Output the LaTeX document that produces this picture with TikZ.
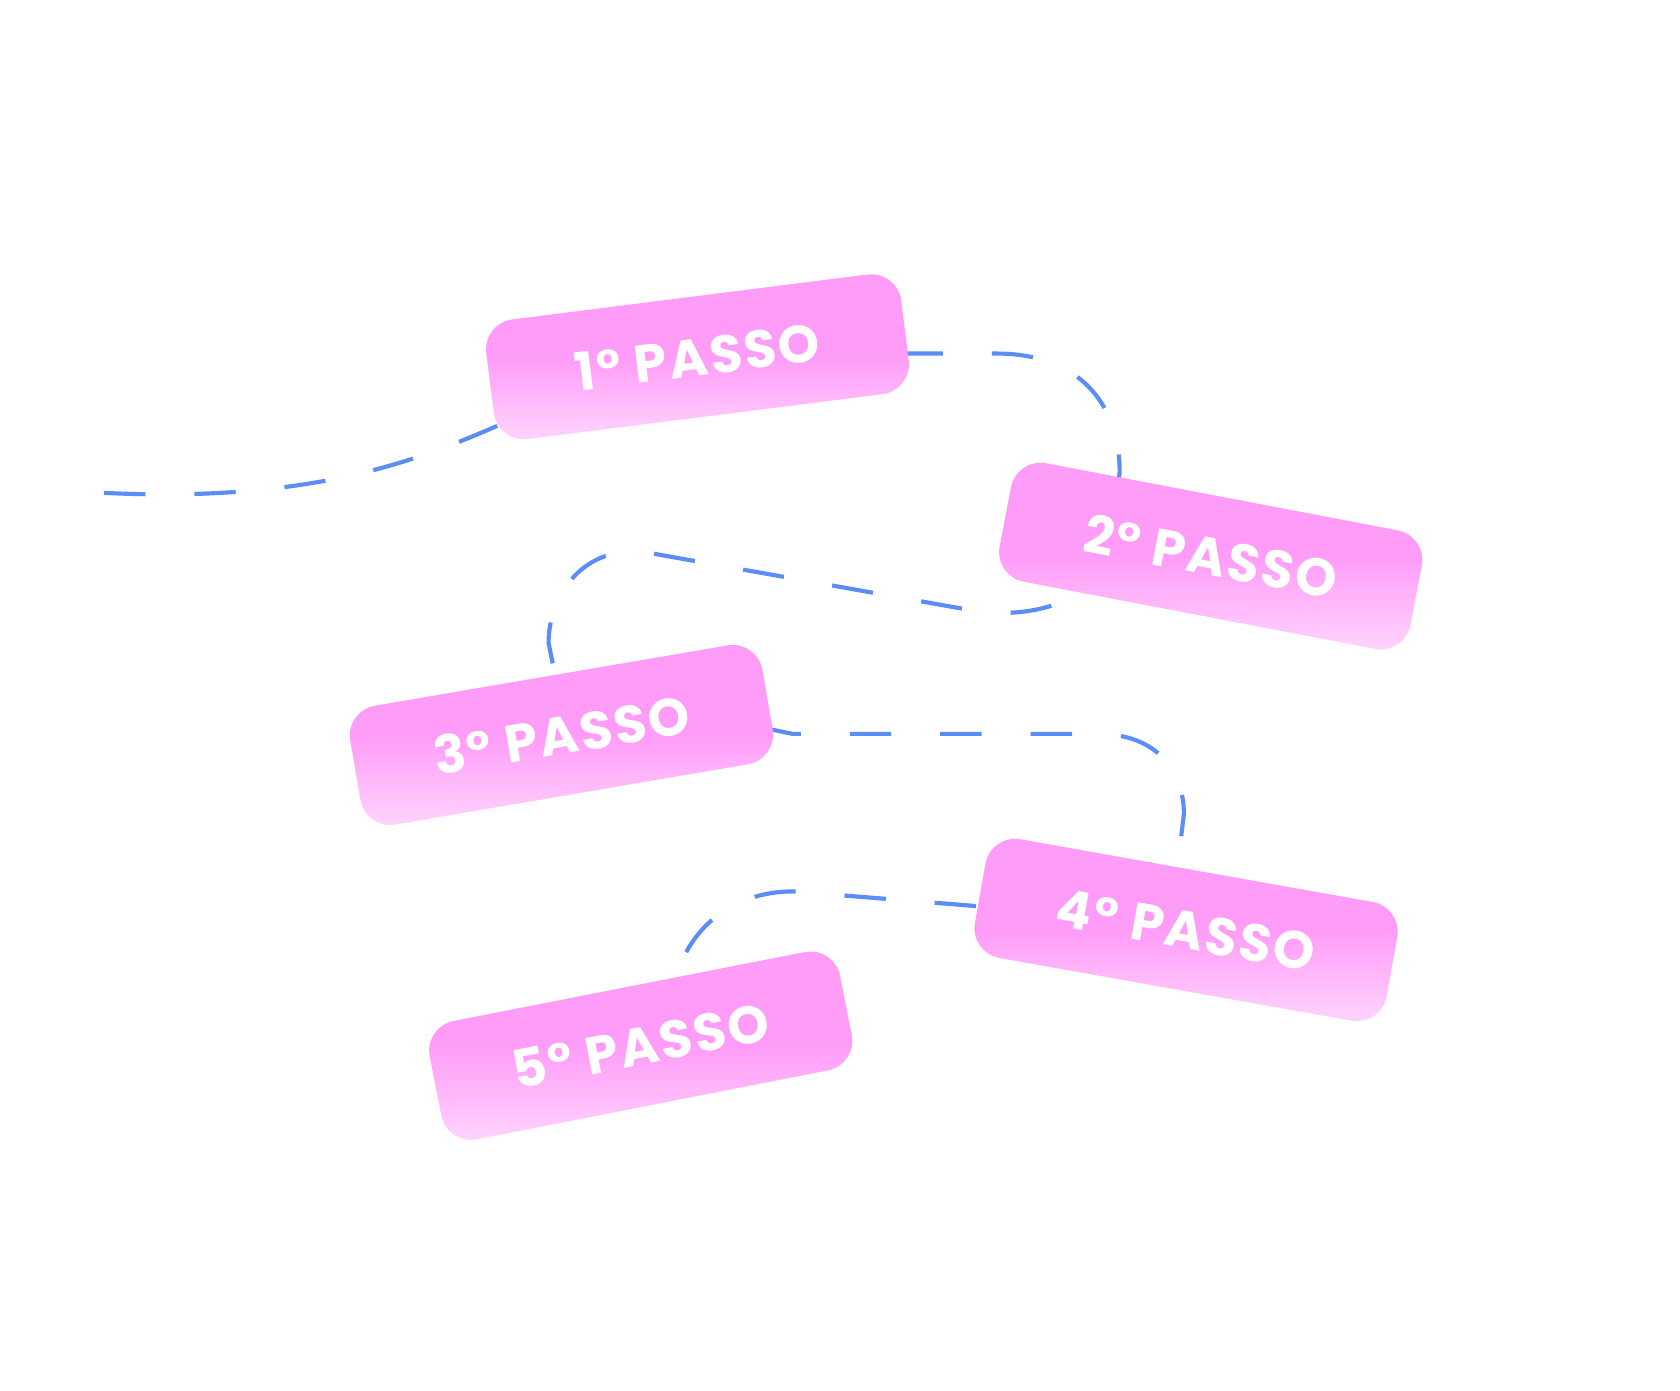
\documentclass[tikz,border=0pt]{standalone}
\usepackage{fontspec}
\setmainfont{Poppins}
\usetikzlibrary{positioning}
\definecolor{Passo}{HTML}{FF9CF8}
\definecolor{PassoLight}{HTML}{FFD6FD}
\definecolor{Ring}{HTML}{DCFA84}
\definecolor{Trail}{HTML}{5B8DF7}
\pgfdeclareradialshading{ring}{\pgfpoint{0bp}{0bp}}{color(0bp)=(white); color(37bp)=(white); color(47bp)=(Ring); color(50bp)=(Ring)}

\begin{document}
\begin{tikzpicture}[x=0.01cm, y=-0.01cm,
  passo/.style={rectangle, rounded corners=8pt, minimum width=111pt, minimum height=32pt,
    top color=Passo, bottom color=PassoLight, middle color=Passo, text=white,
    font=\fontsize{14}{14}\bfseries\addfontfeature{LetterSpace=4}},
  trail/.style={draw=Trail, line width=1.1pt, dash pattern=on 11pt off 13pt}
]
\useasboundingbox (0,0) rectangle (1568,1298);

\shade[shading=ring] (815,663) circle [radius=403];

\coordinate (start) at (97,460);
\draw[trail] (start) .. controls (300,470) and (400,425) .. (470,395) -- (838,330) -- (930,330)
  .. controls (1010,330) and (1045,380) .. (1045,440) -- (1040,500)
  .. controls (1030,550) and (990,575) .. (920,572) -- (600,515)
  .. controls (540,510) and (512,560) .. (512,600) -- (520,640) -- (740,685) -- (1025,685)
  .. controls (1080,685) and (1105,720) .. (1105,760) -- (1100,800) -- (915,846) -- (740,832)
  .. controls (690,832) and (645,860) .. (630,915) -- (620,950);

\node[passo, rotate=7.2]   (p1) at (651,333) {1° PASSO};
\node[passo, rotate=-10.8] (p2) at (1130,519) {2° PASSO};
\node[passo, rotate=9.7]   (p3) at (524,686) {3° PASSO};
\node[passo, rotate=-10.1] (p4) at (1107,868) {4° PASSO};
\node[passo, rotate=11.1]  (p5) at (598,976) {5° PASSO};
\end{tikzpicture}
\end{document}
